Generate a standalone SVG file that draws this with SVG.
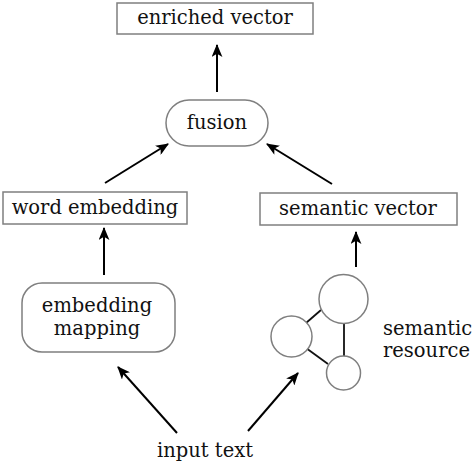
<svg xmlns="http://www.w3.org/2000/svg" width="474" height="466" viewBox="0 0 474 466">
<style>
text{font-family:"DejaVu Serif",serif;font-size:19.5px;fill:#111;text-anchor:middle}
.box{fill:#fff;stroke:#7f7f7f;stroke-width:1.5}
.edge{stroke:#000;stroke-width:2;fill:none;marker-end:url(#ah)}
.link{stroke:#111;stroke-width:1.8}
</style>
<defs>
<marker id="ah" viewBox="0 0 12 10" refX="11" refY="5" markerWidth="13" markerHeight="11" markerUnits="userSpaceOnUse" orient="auto">
<path d="M0,0 L12,5 L0,10 L3,5 Z" fill="#000"/>
</marker>
</defs>
<rect width="474" height="466" fill="#fff"/>
<g id="enriched-vector"><rect class="box" x="117" y="3" width="196" height="31"/><text x="215" y="24">enriched vector</text></g>
<g id="fusion"><rect class="box" x="166" y="100" width="102" height="46" rx="23"/><text x="217" y="129">fusion</text></g>
<g id="word-embedding"><rect class="box" x="3" y="192" width="184" height="32"/><text x="95" y="214">word embedding</text></g>
<g id="semantic-vector"><rect class="box" x="260" y="193" width="197" height="32"/><text x="358" y="215">semantic vector</text></g>
<g id="embedding-mapping"><rect class="box" x="22" y="283" width="153" height="69" rx="20"/><text x="97" y="312">embedding</text><text x="97" y="335">mapping</text></g>
<g id="semantic-resource">
<line class="link" x1="321" y1="310" x2="306" y2="323"/>
<line class="link" x1="344" y1="324" x2="344" y2="357"/>
<line class="link" x1="306" y1="348" x2="328" y2="364"/>
<circle class="box" cx="343.5" cy="299" r="24.5"/>
<circle class="box" cx="291.5" cy="336.5" r="20.5"/>
<circle class="box" cx="343.5" cy="373" r="17"/>
<text x="383" y="335" style="text-anchor:start">semantic</text>
<text x="383" y="357" style="text-anchor:start">resource</text>
</g>
<g id="input-text"><text x="205" y="457">input text</text></g>
<g id="connectors">
<line class="edge" x1="217" y1="92" x2="217" y2="45"/>
<line class="edge" x1="105" y1="183" x2="168" y2="144"/>
<line class="edge" x1="332" y1="184" x2="267" y2="144"/>
<line class="edge" x1="104" y1="275" x2="104" y2="228"/>
<line class="edge" x1="356" y1="267" x2="356" y2="232"/>
<line class="edge" x1="177" y1="433" x2="118" y2="367"/>
<line class="edge" x1="248" y1="431" x2="298" y2="373"/>
</g>
</svg>
